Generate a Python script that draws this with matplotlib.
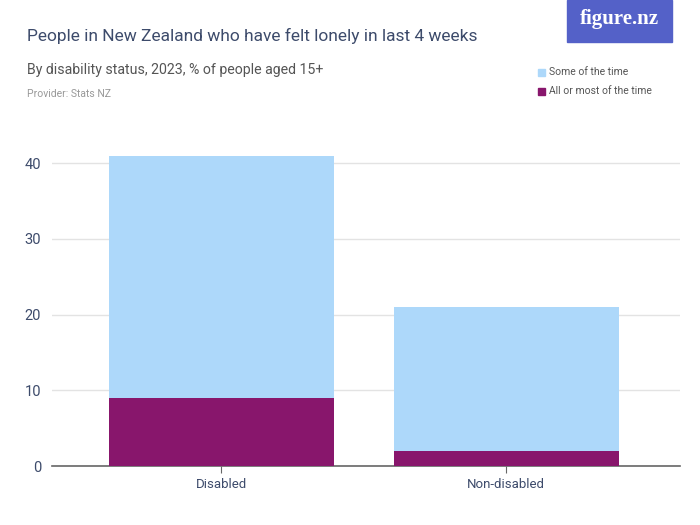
import matplotlib
matplotlib.use("Agg")
import matplotlib.pyplot as plt
from matplotlib.patches import Rectangle

categories = ["Disabled", "Non-disabled"]
all_or_most = [9, 2]
some_of_time = [32, 19]
yticks = [0, 10, 20, 30, 40]

plt.rcParams["font.family"] = ["Roboto", "DejaVu Sans"]

C_SOME = "#add8fa"
C_ALL = "#88166c"
TXT = "#3d4b6b"

fig = plt.figure(figsize=(7, 5.25), dpi=100)
ax = fig.add_axes([52/700, 1-466/525, 628/700, (466-148)/525])
x = list(range(len(categories)))
ax.bar(x, all_or_most, width=0.79, color=C_ALL, zorder=3)
ax.bar(x, some_of_time, bottom=all_or_most, width=0.79, color=C_SOME, zorder=3)
ax.set_xlim(-0.594, 1.61)
ax.set_ylim(0, 42)
ax.set_yticks(yticks)
ax.set_xticks(x)
ax.set_xticklabels(categories)
ax.grid(axis="y", color="#e3e3e3", lw=1, zorder=0)
for s in ["top", "right", "left"]:
    ax.spines[s].set_visible(False)
ax.spines["bottom"].set_color("#666666")
ax.spines["bottom"].set_linewidth(1.2)
ax.tick_params(axis="y", length=0, pad=8, labelsize=10.5, labelcolor=TXT)
ax.tick_params(axis="x", length=5, color="#666666", labelsize=9.5, labelcolor=TXT, pad=4)

fig.text(27/700, 1-36/525, "People in New Zealand who have felt lonely in last 4 weeks",
         fontsize=12.5, color=TXT, va="center", ha="left")
fig.text(27/700, 1-70/525, "By disability status, 2023, % of people aged 15+",
         fontsize=10.2, color="#555555", va="center", ha="left")
fig.text(27/700, 1-94/525, "Provider: Stats NZ", fontsize=7.5, color="#999999",
         va="center", ha="left")

# logo
fig.patches.append(Rectangle((567/700, 1-42/525), 105/700, 42/525,
                             transform=fig.transFigure, color="#5461c8", zorder=1))
fig.text(619/700, 1-19/525, "figure.nz", fontsize=15, color="white", fontweight="bold",
         family="Liberation Serif", ha="center", va="center", zorder=2)

# legend
for yy, col, lab in [(72, C_SOME, "Some of the time"), (91, C_ALL, "All or most of the time")]:
    fig.patches.append(Rectangle((538/700, 1-(yy+4)/525), 7/700, 7/525,
                                 transform=fig.transFigure, color=col))
    fig.text(549/700, 1-yy/525, lab, fontsize=7.5, color="#555555", va="center", ha="left")

fig.savefig("out.png", dpi=100)
